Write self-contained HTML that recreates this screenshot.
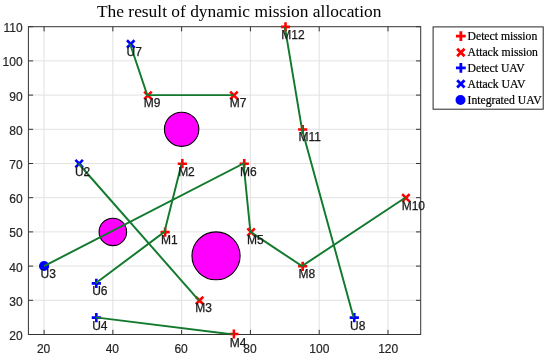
<!DOCTYPE html>
<html><head><meta charset="utf-8"><title>The result of dynamic mission allocation</title>
<style>html,body{margin:0;padding:0;background:#fff}body{width:550px;height:359px;overflow:hidden}svg{display:block}.t{font-family:"Liberation Sans",Arial,sans-serif;font-size:11.8px;fill:#262626;stroke:#262626;stroke-width:0.2px}.l{font-family:"Liberation Sans",Arial,sans-serif;font-size:12px;fill:#1a1a1a;stroke:#1a1a1a;stroke-width:0.25px}.s{font-family:"Liberation Serif","Times New Roman",serif;fill:#000}</style></head><body>
<svg width="550" height="359" viewBox="0 0 550 359">
<rect width="550" height="359" fill="#fff"/>
<text class="s" x="239.2" y="17.35" font-size="17.4" text-anchor="middle">The result of dynamic mission allocation</text>
<path d="M44.07 26.7V334.5M112.85 26.7V334.5M181.63 26.7V334.5M250.41 26.7V334.5M319.19 26.7V334.5M387.97 26.7V334.5M28.4 300.3H420.7M28.4 266.1H420.7M28.4 231.9H420.7M28.4 197.7H420.7M28.4 163.5H420.7M28.4 129.3H420.7M28.4 95.1H420.7M28.4 60.9H420.7" stroke="#e2e2e2" stroke-width="1" fill="none"/>
<rect x="28.4" y="26.7" width="392.3" height="307.8" fill="none" stroke="#333333" stroke-width="1"/>
<path d="M44.07 334.5v-4.7M44.07 26.7v4.7M112.85 334.5v-4.7M112.85 26.7v4.7M181.63 334.5v-4.7M181.63 26.7v4.7M250.41 334.5v-4.7M250.41 26.7v4.7M319.19 334.5v-4.7M319.19 26.7v4.7M387.97 334.5v-4.7M387.97 26.7v4.7M28.4 334.5h4.7M420.7 334.5h-4.7M28.4 300.3h4.7M420.7 300.3h-4.7M28.4 266.1h4.7M420.7 266.1h-4.7M28.4 231.9h4.7M420.7 231.9h-4.7M28.4 197.7h4.7M420.7 197.7h-4.7M28.4 163.5h4.7M420.7 163.5h-4.7M28.4 129.3h4.7M420.7 129.3h-4.7M28.4 95.1h4.7M420.7 95.1h-4.7M28.4 60.9h4.7M420.7 60.9h-4.7M28.4 26.7h4.7M420.7 26.7h-4.7" stroke="#333333" stroke-width="1" fill="none"/>
<defs><clipPath id="c"><rect x="28.4" y="26.7" width="392.3" height="307.8"/></clipPath></defs>
<ellipse cx="181.63" cy="129.3" rx="17.2" ry="17.1" fill="#ff00ff" stroke="#000" stroke-width="1.1"/>
<ellipse cx="112.85" cy="231.9" rx="13.76" ry="13.68" fill="#ff00ff" stroke="#000" stroke-width="1.1"/>
<ellipse cx="216.02" cy="255.84" rx="24.07" ry="23.94" fill="#ff00ff" stroke="#000" stroke-width="1.1"/>
<path d="M160.53 232.1H169.73M165.13 227.5V236.7" stroke="#ff0000" stroke-width="2.6" fill="none"/>
<path d="M177.73 163.7H186.93M182.33 159.1V168.3" stroke="#ff0000" stroke-width="2.6" fill="none"/>
<path d="M195.77 296.75L203.27 304.25M195.77 304.25L203.27 296.75" stroke="#ff0000" stroke-width="2.6" fill="none"/>
<path d="M229.31 334H238.51M233.91 329.4V338.6" stroke="#ff0000" stroke-width="2.6" fill="none"/>
<path d="M247.36 228.35L254.86 235.85M247.36 235.85L254.86 228.35" stroke="#ff0000" stroke-width="2.6" fill="none"/>
<path d="M239.63 163.7H248.83M244.23 159.1V168.3" stroke="#ff0000" stroke-width="2.6" fill="none"/>
<path d="M230.16 91.55L237.66 99.05M230.16 99.05L237.66 91.55" stroke="#ff0000" stroke-width="2.6" fill="none"/>
<path d="M298.09 266.3H307.3M302.69 261.7V270.9" stroke="#ff0000" stroke-width="2.6" fill="none"/>
<path d="M144.19 91.55L151.69 99.05M144.19 99.05L151.69 91.55" stroke="#ff0000" stroke-width="2.6" fill="none"/>
<path d="M402.12 194.15L409.62 201.65M402.12 201.65L409.62 194.15" stroke="#ff0000" stroke-width="2.6" fill="none"/>
<path d="M298.09 129.5H307.3M302.69 124.9V134.1" stroke="#ff0000" stroke-width="2.6" fill="none"/>
<path d="M280.9 26.9H290.1M285.5 22.3V31.5" stroke="#ff0000" stroke-width="2.6" fill="none"/>
<path d="M75.41 159.95L82.91 167.45M75.41 167.45L82.91 159.95" stroke="#0000ff" stroke-width="2.6" fill="none"/>
<circle cx="44.07" cy="266" r="5.1" fill="#0000ff"/>
<path d="M91.76 317.6H100.95M96.36 313V322.2" stroke="#0000ff" stroke-width="2.6" fill="none"/>
<path d="M91.76 283.4H100.95M96.36 278.8V288" stroke="#0000ff" stroke-width="2.6" fill="none"/>
<path d="M126.99 40.25L134.49 47.75M126.99 47.75L134.49 40.25" stroke="#0000ff" stroke-width="2.6" fill="none"/>
<path d="M349.68 317.6H358.88M354.28 313V322.2" stroke="#0000ff" stroke-width="2.6" fill="none"/>
<path d="M130.04 43.8 L147.24 95.1 L233.22 95.1" stroke="#127a2c" stroke-width="1.95" fill="none" stroke-linejoin="miter" clip-path="url(#c)"/>
<path d="M78.46 163.5 L198.82 300.3" stroke="#127a2c" stroke-width="1.95" fill="none" stroke-linejoin="miter" clip-path="url(#c)"/>
<path d="M44.07 266.1 L243.53 163.5 L250.41 231.9 L302 266.1 L405.17 197.7" stroke="#127a2c" stroke-width="1.95" fill="none" stroke-linejoin="miter" clip-path="url(#c)"/>
<path d="M95.66 283.2 L164.44 231.9 L181.63 163.5" stroke="#127a2c" stroke-width="1.95" fill="none" stroke-linejoin="miter" clip-path="url(#c)"/>
<path d="M95.66 317.4 L233.22 334.5" stroke="#127a2c" stroke-width="1.95" fill="none" stroke-linejoin="miter" clip-path="url(#c)"/>
<path d="M353.58 317.4 L302 129.3 L284.8 26.7" stroke="#127a2c" stroke-width="1.95" fill="none" stroke-linejoin="miter" clip-path="url(#c)"/>
<text class="l" x="160.94" y="244">M1</text>
<text class="l" x="178.13" y="175.6">M2</text>
<text class="l" x="195.32" y="312.4">M3</text>
<text class="l" x="229.72" y="346.6">M4</text>
<text class="l" x="246.91" y="244">M5</text>
<text class="l" x="240.03" y="175.6">M6</text>
<text class="l" x="229.72" y="107.2">M7</text>
<text class="l" x="298.5" y="278.2">M8</text>
<text class="l" x="143.74" y="107.2">M9</text>
<text class="l" x="401.67" y="209.8">M10</text>
<text class="l" x="298.5" y="141.4">M11</text>
<text class="l" x="281.3" y="38.8">M12</text>
<text class="l" x="74.96" y="175.6">U2</text>
<text class="l" x="40.57" y="278.2">U3</text>
<text class="l" x="92.16" y="329.5">U4</text>
<text class="l" x="92.16" y="295.3">U6</text>
<text class="l" x="126.54" y="55.9">U7</text>
<text class="l" x="350.08" y="329.5">U8</text>
<text class="t" x="43.57" y="352.6" text-anchor="middle" style="font-size:12px">20</text>
<text class="t" x="112.35" y="352.6" text-anchor="middle" style="font-size:12px">40</text>
<text class="t" x="181.13" y="352.6" text-anchor="middle" style="font-size:12px">60</text>
<text class="t" x="249.91" y="352.6" text-anchor="middle" style="font-size:12px">80</text>
<text class="t" x="319.39" y="352.6" text-anchor="middle" style="font-size:12px">100</text>
<text class="t" x="388.17" y="352.6" text-anchor="middle" style="font-size:12px">120</text>
<text class="t" x="22.6" y="339.9" text-anchor="end" style="font-size:12px">20</text>
<text class="t" x="22.6" y="305.7" text-anchor="end" style="font-size:12px">30</text>
<text class="t" x="22.6" y="271.5" text-anchor="end" style="font-size:12px">40</text>
<text class="t" x="22.6" y="237.3" text-anchor="end" style="font-size:12px">50</text>
<text class="t" x="22.6" y="203.1" text-anchor="end" style="font-size:12px">60</text>
<text class="t" x="22.6" y="168.9" text-anchor="end" style="font-size:12px">70</text>
<text class="t" x="22.6" y="134.7" text-anchor="end" style="font-size:12px">80</text>
<text class="t" x="22.6" y="100.5" text-anchor="end" style="font-size:12px">90</text>
<text class="t" x="22.6" y="66.3" text-anchor="end" style="font-size:12px">100</text>
<text class="t" x="22.6" y="32.1" text-anchor="end" style="font-size:12px">110</text>
<rect x="433.1" y="26.9" width="110.1" height="82.3" fill="#fff" stroke="#262626" stroke-width="1"/>
<path d="M455.95 36.1H465.75M460.85 31.2V41" stroke="#ff0000" stroke-width="2.8" fill="none"/>
<text class="s" x="467.5" y="40.1" font-size="11.7" stroke="#000" stroke-width="0.2">Detect mission</text>
<path d="M457.15 48.8L464.55 56.2M457.15 56.2L464.55 48.8" stroke="#ff0000" stroke-width="2.8" fill="none"/>
<text class="s" x="467.5" y="56.2" font-size="11.7" stroke="#000" stroke-width="0.2">Attack mission</text>
<path d="M455.95 67.9H465.75M460.85 63V72.8" stroke="#0000ff" stroke-width="2.8" fill="none"/>
<text class="s" x="467.5" y="72.3" font-size="11.7" stroke="#000" stroke-width="0.2">Detect UAV</text>
<path d="M457.15 80.2L464.55 87.6M457.15 87.6L464.55 80.2" stroke="#0000ff" stroke-width="2.8" fill="none"/>
<text class="s" x="467.5" y="88.4" font-size="11.7" stroke="#000" stroke-width="0.2">Attack UAV</text>
<circle cx="460.5" cy="100" r="5" fill="#0000ff"/>
<text class="s" x="467.5" y="104" font-size="11.7" stroke="#000" stroke-width="0.2">Integrated UAV</text>
</svg></body></html>
